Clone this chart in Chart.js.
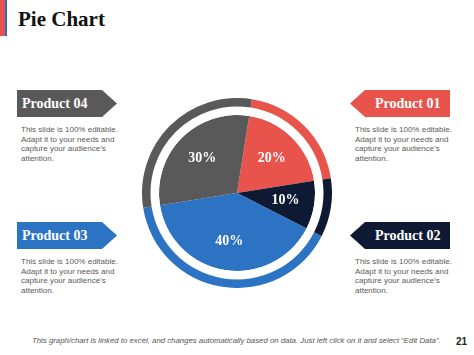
<!DOCTYPE html>
<html>
<head>
<meta charset="utf-8">
<script src="https://cdn.jsdelivr.net/npm/chart.js@4"></script>
<style>
  html, body { margin:0; padding:0; background:#fff; }
  #page { position:relative; width:474px; height:355px; overflow:hidden; background:#fff; }
  .abs { position:absolute; white-space:nowrap; }
  .title { left:18px; top:6px; font:bold 21px "Liberation Serif", serif; color:#111; line-height:26px; }
  .banner { position:absolute; height:27px; }
  .btxt { position:absolute; font:bold 14px "Liberation Serif", serif; color:#fff; line-height:27px; white-space:nowrap; }
  .desc { position:absolute; font:8px "Liberation Sans", Arial, sans-serif; color:#5a5a5a; line-height:9.7px; white-space:nowrap; }
  .footer { left:32px; top:336px; font:italic 7.8px "Liberation Sans", Arial, sans-serif; color:#555; line-height:10px; }
  .pnum { left:456px; top:336px; font:bold 10px "Liberation Sans", Arial, sans-serif; color:#222; line-height:12px; }
  #wrap { position:absolute; left:142px; top:98px; width:190px; height:190px; }
</style>
</head>
<body>
<div id="page">
  <div class="abs" style="left:0;top:0;width:5px;height:36px;background:#E8524A"></div>
  <div class="abs" style="left:5px;top:0;width:2px;height:36px;background:#2C6FBF"></div>
  <div class="abs title">Pie Chart</div>

  <div id="banners"></div>

  <div id="wrap"><canvas id="c" width="190" height="190"></canvas></div>

  <div class="abs footer">This graph/chart is linked to excel, and changes automatically based on data. Just left click on it and select “Edit Data”.</div>
  <div class="abs pnum">21</div>
</div>
<script>
// ---- data ----
const categories = ["Product 01", "Product 02", "Product 03", "Product 04"];
const shares = [20, 10, 40, 30];
const sliceLabels = ["20%", "10%", "40%", "30%"];
const sliceColors = ["#E8534B", "#0E1A34", "#2C73C3", "#595959"];
const descText = ["This slide is 100% editable.", "Adapt it to your  needs and", "capture your audience's", "attention."];

// ---- banners (layout) ----
const bannerLayout = [
  // [category index, side, top]
  [3, "left", 90], [0, "right", 90], [2, "left", 222], [1, "right", 222]
];
const page = document.getElementById("banners");
bannerLayout.forEach(([i, side, top]) => {
  const b = document.createElement("div");
  b.className = "banner";
  b.style.top = top + "px";
  b.style.background = sliceColors[i];
  const t = document.createElement("div");
  t.className = "btxt";
  t.textContent = categories[i];
  t.style.top = top + "px";
  const d = document.createElement("div");
  d.className = "desc";
  d.innerHTML = descText.join("<br>");
  d.style.top = (top + 35) + "px";
  if (side === "left") {
    b.style.left = "17px"; b.style.width = "100px";
    b.style.clipPath = "polygon(0 0, 85px 0, 100px 50%, 85px 100%, 0 100%)";
    t.style.left = "22px";
    d.style.left = "21px";
  } else {
    b.style.left = "350px"; b.style.width = "100px";
    b.style.clipPath = "polygon(0 50%, 15px 0, 100px 0, 100px 100%, 15px 100%)";
    t.style.left = "375px";
    d.style.left = "355px";
  }
  page.appendChild(b); page.appendChild(t); page.appendChild(d);
});

// ---- chart ----
const labelPlugin = {
  id: "sliceLabels",
  afterDatasetsDraw(chart) {
    const meta = chart.getDatasetMeta(2);
    const ctx = chart.ctx;
    ctx.save();
    ctx.fillStyle = "#ffffff";
    ctx.font = "bold 14px 'Liberation Serif', serif";
    ctx.textAlign = "center";
    ctx.textBaseline = "middle";
    meta.data.forEach((arc, i) => {
      const p = arc.getProps(["x", "y", "startAngle", "endAngle", "outerRadius"], true);
      const a = (p.startAngle + p.endAngle) / 2;
      const r = p.outerRadius * 0.63;
      ctx.fillText(sliceLabels[i], p.x + Math.cos(a) * r, p.y + Math.sin(a) * r);
    });
    ctx.restore();
  }
};

new Chart(document.getElementById("c"), {
  type: "doughnut",
  data: {
    labels: categories,
    datasets: [
      { data: shares, backgroundColor: sliceColors, borderWidth: 0, weight: 8.5 },
      { data: [1], backgroundColor: ["#ffffff"], borderWidth: 0, weight: 8.5 },
      { data: shares, backgroundColor: sliceColors, borderWidth: 0, weight: 78 }
    ]
  },
  options: {
    responsive: false,
    animation: false,
    cutout: 0,
    rotation: 9,
    layout: { padding: 0 },
    plugins: { legend: { display: false }, tooltip: { enabled: false } }
  },
  plugins: [labelPlugin]
});
</script>
</body>
</html>
